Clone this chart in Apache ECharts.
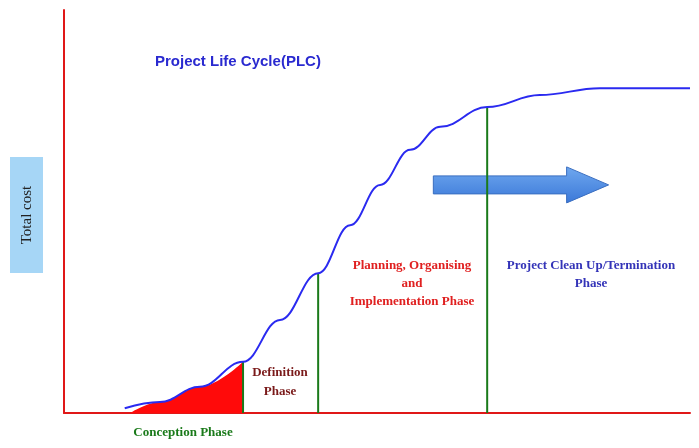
<!DOCTYPE html><html><head><meta charset="utf-8">
<script src="https://cdn.jsdelivr.net/npm/echarts@6/dist/echarts.min.js"></script>
<style>html,body{margin:0;background:#fff}#c{width:699px;height:448px}</style></head><body><div id="c"></div>
<script>
const curveT=[9.7,15.3,21.7,28.6,34.5,40.6,45.7,50.5,55.3,60.1,67.6,76.0,85.6,100];
const curveC=[1.2,2.7,6.5,12.7,23.1,34.7,46.6,56.6,65.3,71.0,75.9,78.9,80.6,80.6];
const conceptT=[10.6,15.3,21.7,28.6];
const conceptC=[0,2.7,6.5,12.7];
const phaseT=[28.6,40.6,67.6];
const phaseC=[12.7,34.7,75.9];
const arrowT=[59.0,87.0];const arrowC=56.6;
const serif='"Liberation Serif","DejaVu Serif",serif';
const chart=echarts.init(document.getElementById('c'));
const green=phaseT.map((t,i)=>({type:'line',data:[[t,0],[t,phaseC[i]]],symbol:'none',lineStyle:{color:'#1a7a1a',width:2},z:3}));
chart.setOption({
 animation:false,
 grid:{left:64,right:9,top:10,bottom:35},
 xAxis:{type:'value',min:0,max:100,axisLine:{show:true,lineStyle:{color:'#e01818',width:2}},axisTick:{show:false},axisLabel:{show:false},splitLine:{show:false}},
 yAxis:{type:'value',min:0,max:100,axisLine:{show:true,lineStyle:{color:'#e01818',width:2}},axisTick:{show:false},axisLabel:{show:false},splitLine:{show:false}},
 series:[
  {type:'line',data:conceptT.map((t,i)=>[t,conceptC[i]]),smooth:0.4,smoothMonotone:'x',symbol:'none',lineStyle:{width:0},areaStyle:{color:'#ff0a0a',opacity:1},z:2},
  {type:'line',data:curveT.map((t,i)=>[t,curveC[i]]),smooth:0.4,smoothMonotone:'x',symbol:'none',lineStyle:{color:'#2a2af0',width:2},z:4},
  ...green
 ]
});
const a=chart.convertToPixel({gridIndex:0},[arrowT[0],arrowC]);
const b=chart.convertToPixel({gridIndex:0},[arrowT[1],arrowC]);
const x0=a[0],x1=b[0],y=a[1],hx=x1-42;
chart.setOption({graphic:[
  {type:'rect',shape:{x:10,y:157,width:33,height:116},style:{fill:'#a6d6f6'}},
  {type:'text',x:27,y:215,rotation:Math.PI/2,style:{text:'Total cost',font:'15px '+serif,fill:'#222',align:'center',verticalAlign:'middle'}},
  {type:'text',x:155,y:62,style:{text:'Project Life Cycle(PLC)',font:'bold 15px "Liberation Sans",Arial,sans-serif',fill:'#2a2ad0',verticalAlign:'middle'}},
  {type:'text',x:412,y:284,style:{text:'Planning, Organising\nand\nImplementation Phase',font:'bold 13px '+serif,fill:'#e02020',align:'center',verticalAlign:'middle',lineHeight:18}},
  {type:'text',x:591,y:275,style:{text:'Project Clean Up/Termination\nPhase',font:'bold 13px '+serif,fill:'#3434b8',align:'center',verticalAlign:'middle',lineHeight:18}},
  {type:'text',x:280,y:382,style:{text:'Definition\nPhase',font:'bold 13px '+serif,fill:'#7a1a1a',align:'center',verticalAlign:'middle',lineHeight:19}},
  {type:'text',x:183,y:433,style:{text:'Conception Phase',font:'bold 13px '+serif,fill:'#1a7a1a',align:'center',verticalAlign:'middle'}},
  {type:'polygon',shape:{points:[[x0,y-9],[hx,y-9],[hx,y-18],[x1,y],[hx,y+18],[hx,y+9],[x0,y+9]]},style:{fill:{type:'linear',x:0,y:0,x2:0,y2:1,colorStops:[{offset:0,color:'#6fa8ef'},{offset:1,color:'#3b78d8'}]},stroke:'#3a6ec0',lineWidth:1}}
]});
</script></body></html>
